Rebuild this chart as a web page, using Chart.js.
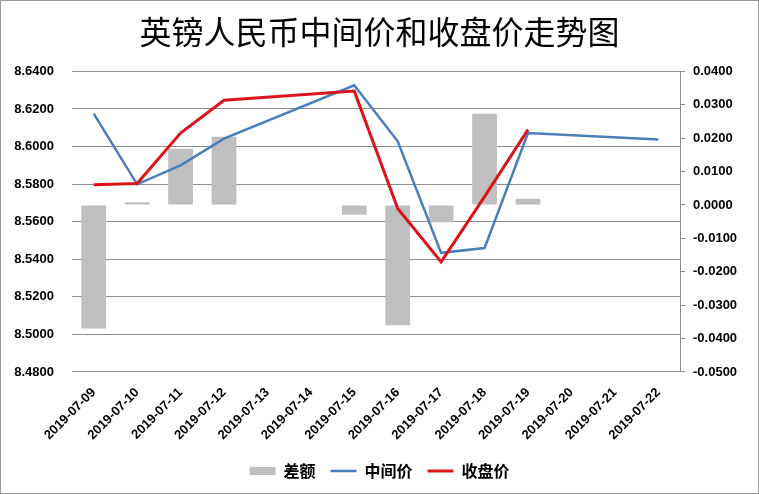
<!DOCTYPE html>
<html>
<head>
<meta charset="utf-8">
<script src="https://cdn.jsdelivr.net/npm/chart.js@4"></script>
<style>
  html, body { margin: 0; padding: 0; background: #fff; }
  #wrap { width: 759px; height: 494px; }
</style>
</head>
<body>
<div id="wrap"><canvas id="chart" width="759" height="494"></canvas></div>
<script>
const dates = [
  "2019-07-09", "2019-07-10", "2019-07-11", "2019-07-12", "2019-07-13",
  "2019-07-14", "2019-07-15", "2019-07-16", "2019-07-17", "2019-07-18",
  "2019-07-19", "2019-07-20", "2019-07-21", "2019-07-22",
];
// 差额 (right axis)
const spread = [-0.0370, 0.0008, 0.0168, 0.0204, null, null, -0.0029, -0.0360, -0.0052, 0.0273, 0.0019, null, null, null];
// 中间价 (left axis)
const midPrice = [8.6175, 8.5799, 8.5900, 8.6042, null, null, 8.6326, 8.6028, 8.5434, 8.5460, 8.6072, null, null, 8.6037];
// 收盘价 (left axis)
const closePrice = [8.5797, 8.5803, 8.6072, 8.6246, null, null, 8.6295, 8.5670, 8.5386, 8.5733, 8.6090, null, null, null];

const tickFont = { family: "'Liberation Sans', Arial, sans-serif", size: 13, weight: "bold" };

const frame = {
  id: "frame",
  afterDraw(chart) {
    const ctx = chart.ctx;
    ctx.save();
    ctx.strokeStyle = "#9a9a9a";
    ctx.lineWidth = 1;
    ctx.strokeRect(0.5, 0.5, chart.width - 1, chart.height - 1);
    ctx.restore();
  },
};

new Chart(document.getElementById("chart"), {
  type: "bar",
  data: {
    labels: dates,
    datasets: [
      {
        type: "bar",
        label: "差额",
        data: spread,
        yAxisID: "yRight",
        backgroundColor: "#bfbfbf",
        borderWidth: 0,
        barPercentage: 0.57,
        categoryPercentage: 1,
        pointStyle: "rect",
        order: 2,
      },
      {
        type: "line",
        label: "中间价",
        data: midPrice,
        yAxisID: "yLeft",
        borderColor: "#4a7ebb",
        backgroundColor: "#4a7ebb",
        borderWidth: 2.5,
        pointRadius: 0,
        pointStyle: "line",
        spanGaps: true,
        tension: 0,
        order: 1,
      },
      {
        type: "line",
        label: "收盘价",
        data: closePrice,
        yAxisID: "yLeft",
        borderColor: "#d9141a",
        backgroundColor: "#d9141a",
        borderWidth: 3,
        pointRadius: 0,
        pointStyle: "line",
        spanGaps: true,
        tension: 0,
        order: 0,
      },
    ],
  },
  options: {
    responsive: false,
    animation: false,
    layout: { padding: { left: 0, right: 0, top: 0, bottom: 5 } },
    plugins: {
      title: {
        display: true,
        text: "英镑人民币中间价和收盘价走势图",
        color: "#000",
        font: { family: "'Noto Sans CJK SC', sans-serif", size: 32, weight: "normal" },
        padding: { top: 13, bottom: 20 },
      },
      legend: {
        position: "bottom",
        labels: {
          color: "#000",
          font: { family: "'Noto Sans CJK SC', sans-serif", size: 16, weight: "bold" },
          usePointStyle: true,
          pointStyleWidth: 26,
          boxHeight: 8,
          padding: 15,
          sort: (a, b) => a.datasetIndex - b.datasetIndex,
        },
      },
      tooltip: { enabled: false },
    },
    scales: {
      x: {
        grid: { display: false },
        border: { display: false },
        ticks: {
          color: "#000",
          font: tickFont,
          minRotation: 45,
          maxRotation: 45,
          padding: 5,
        },
      },
      yLeft: {
        position: "left",
        min: 8.48,
        max: 8.64,
        grid: { color: "#8c8c8c", lineWidth: 1, drawTicks: false },
        border: { display: false },
        ticks: {
          stepSize: 0.02,
          color: "#000",
          font: tickFont,
          padding: 18,
          callback: (v) => Number(v).toFixed(4),
        },
        afterFit: (scale) => { scale.width = 72; },
      },
      yRight: {
        position: "right",
        min: -0.05,
        max: 0.04,
        grid: { drawOnChartArea: false, color: "#8c8c8c", tickLength: 5 },
        border: { display: true, color: "#8c8c8c" },
        ticks: {
          stepSize: 0.01,
          color: "#000",
          font: tickFont,
          padding: 8,
          callback: (v) => Number(v).toFixed(4),
        },
        afterFit: (scale) => { scale.width = 79; },
      },
    },
  },
  plugins: [frame],
});
</script>
</body>
</html>
